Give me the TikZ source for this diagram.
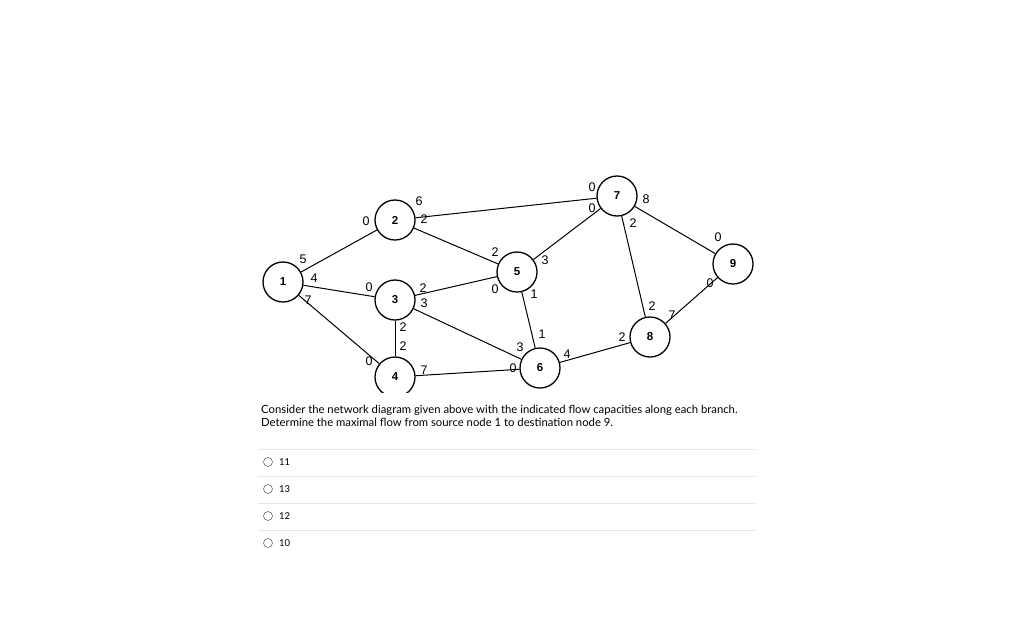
\documentclass[tikz,border=0pt]{standalone}
\usepackage{fontspec}
\setmainfont{Lato}
\newfontfamily\helv{Liberation Sans}
\begin{document}
\begin{tikzpicture}[x=1pt,y=-1pt,
  nd/.style={circle,draw,line width=1.3pt,minimum size=40pt,inner sep=0pt,font=\helv\bfseries\fontsize{11.5}{13}\selectfont},
  lb/.style={font=\helv\fontsize{12.5}{14}\selectfont,inner sep=0pt},
  ed/.style={line width=1pt},
  sep/.style={draw=black!10,line width=0.6pt},
  opt/.style={circle,draw=black!60,line width=0.6pt,minimum size=9pt,inner sep=0pt},
  otx/.style={anchor=west,font=\fontsize{9.5}{11}\selectfont,inner sep=0pt}]
\useasboundingbox (0,0) rectangle (1024,640);
\begin{scope}
\clip (255,170) rectangle (765,392);
\node[nd] (n1) at (283,282) {1};
\node[nd] (n2) at (395,220) {2};
\node[nd] (n3) at (395,300) {3};
\node[nd] (n4) at (395,377) {4};
\node[nd] (n5) at (517,272) {5};
\node[nd] (n6) at (540,368) {6};
\node[nd] (n7) at (617,196) {7};
\node[nd] (n8) at (650,337) {8};
\node[nd] (n9) at (733,264) {9};
\draw[ed] (n1)--(n2); \draw[ed] (n1)--(n3); \draw[ed] (n1)--(n4);
\draw[ed] (n2)--(n7); \draw[ed] (n2)--(n5); \draw[ed] (n3)--(n5);
\draw[ed] (n3)--(n4); \draw[ed] (n3)--(n6); \draw[ed] (n4)--(n6);
\draw[ed] (n5)--(n7); \draw[ed] (n5)--(n6); \draw[ed] (n6)--(n8);
\draw[ed] (n7)--(n8); \draw[ed] (n7)--(n9); \draw[ed] (n8)--(n9);
\foreach \t/\x/\y [count=\i] in {5/303/259,4/314/278,7/308/300,0/366/221,6/419/201,2/424/219,2/495/252,0/369/287,2/423/288,3/424/303,0/495/289,2/403/327,2/403/346,0/369/361,7/424/370,3/520/347,0/513/368,0/592/187,0/592/208,8/646/199,2/633/223,3/545/260,1/534/294,1/542/334,4/567/354,2/622/337,2/652/306,7/672/315,0/718/237,0/710/283}
  \node[lb] (l\i) at (\x,\y) {\t};
\end{scope}
\node[anchor=north west,align=left,font=\fontsize{11.3}{13}\selectfont,inner sep=0pt] (q) at (261,405)
 {Consider the network diagram given above with the indicated flow capacities along each branch.\\Determine the maximal flow from source node 1 to destination node 9.};
\foreach \y/\t [count=\i] in {462/11,489/13,516/12,543/10}{
  \draw[sep] (258,\y-13) -- (755,\y-13);
  \node[opt] (o\i) at (268,\y) {};
  \node[otx] (t\i) at (279,\y) {\t};
}
\end{tikzpicture}
\end{document}
